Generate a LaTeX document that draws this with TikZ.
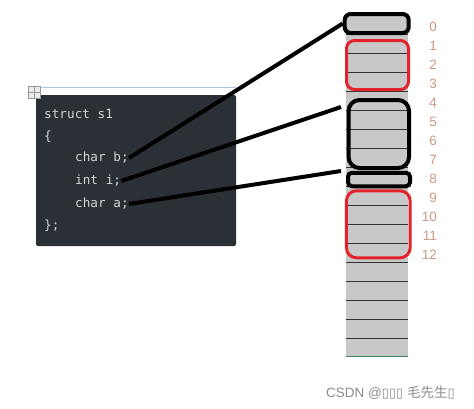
\documentclass[tikz,border=0pt]{standalone}
\usepackage{fontspec}
\setmonofont{DejaVu Sans Mono}
\setsansfont{Liberation Sans}
\newfontfamily\cjk{Noto Sans CJK SC}
\newfontfamily\dejavu{DejaVu Sans}
\definecolor{codebg}{HTML}{2B2F36}
\definecolor{codefg}{HTML}{D2D5D9}
\definecolor{cellgray}{HTML}{C8C8C8}
\definecolor{memred}{HTML}{E2232B}
\definecolor{idxcol}{HTML}{C99A86}
\definecolor{wmgray}{HTML}{8C8C8C}
\definecolor{topblue}{HTML}{A9C6E6}
\definecolor{edgegreen}{HTML}{3D8A5F}

\tikzset{
  code/.style={anchor=west,inner sep=0pt,text=codefg,font=\ttfamily\fontsize{12.7}{14}\selectfont},
  blkbox/.style={draw=black,line width=4pt,rounded corners=7pt,inner sep=0pt},
  redbox/.style={draw=memred,line width=3pt,rounded corners=8pt,inner sep=0pt},
  idx/.style={anchor=east,inner sep=0pt,text=idxcol,font=\sffamily\fontsize{13.5}{15}\selectfont},
  conn/.style={line width=4pt,black}
}

\begin{document}
\begin{tikzpicture}[x=1pt,y=-1pt]
  \useasboundingbox (0,0) rectangle (474,408);

  % code block
  \draw[topblue, line width=0.8pt] (40,87) -- (236,87);
  \fill[codebg, rounded corners=2pt] (36,95) rectangle (236,246);
  \draw[black!40, line width=0.6pt, fill=black!8] (28,86) rectangle (40,98);
  \draw[black!40, line width=0.6pt] (34,86) -- (34,98) (28,92) -- (40,92);
  \node[code] (st) at (44,114) {struct s1};
  \node[code] (ob) at (44,137) {\{};
  \node[code] (cb) at (75,158) {char b;};
  \node[code] (ii) at (75,181) {int i;};
  \node[code] (ca) at (75,204) {char a;};
  \node[code] (cl) at (44,226) {\};};

  % memory cells
  \fill[cellgray] (345.7,15) rectangle (408,356.7);
  \foreach \k in {1,...,17}
    \draw[black!80, line width=0.9pt] (345.7,15+19*\k) -- (408,15+19*\k);
  \draw[edgegreen, line width=0.8pt] (345.7,15) -- (408,15);
  \draw[edgegreen, line width=0.8pt] (345.7,356.7) -- (408,356.7);

  % members
  \node[blkbox, rounded corners=6pt, minimum width=64pt, minimum height=19pt] (g0) at (376.7,23.5) {};
  \node[redbox, minimum width=62pt, minimum height=49pt] (r0) at (377.5,65) {};
  \node[blkbox, rounded corners=11pt, minimum width=60.5pt, minimum height=68pt] (g1) at (378.8,134) {};
  \node[blkbox, rounded corners=4pt, minimum width=62pt, minimum height=13.5pt] (g2) at (379,179.5) {};
  \node[redbox, rounded corners=10pt, minimum width=63.7pt, minimum height=67pt] (r1) at (378.3,224.3) {};

  % offsets
  \foreach \i in {0,...,11}
    \node[idx] (n\i) at (437,27+19*\i) {\i};
  \begin{scope}
    \clip (410,245) rectangle (450,258);
    \node[idx] (n12) at (437,255) {12};
  \end{scope}

  \coordinate (e1) at (341,107);
  \coordinate (e2) at (341,171);
  \path[conn] (cb.east) edge (g0.west);
  \path[conn] (ii.east) edge (e1);
  \path[conn] (ca.east) edge (e2);

  \node[anchor=west, inner sep=0pt, text=wmgray, font=\sffamily\fontsize{13.5}{15}\selectfont] (wm) at (326,393)
    {CSDN @{\dejavu\fontsize{13}{15}\selectfont ▯▯▯} {\cjk 毛先生}{\dejavu\fontsize{13}{15}\selectfont ▯}};
\end{tikzpicture}
\end{document}
